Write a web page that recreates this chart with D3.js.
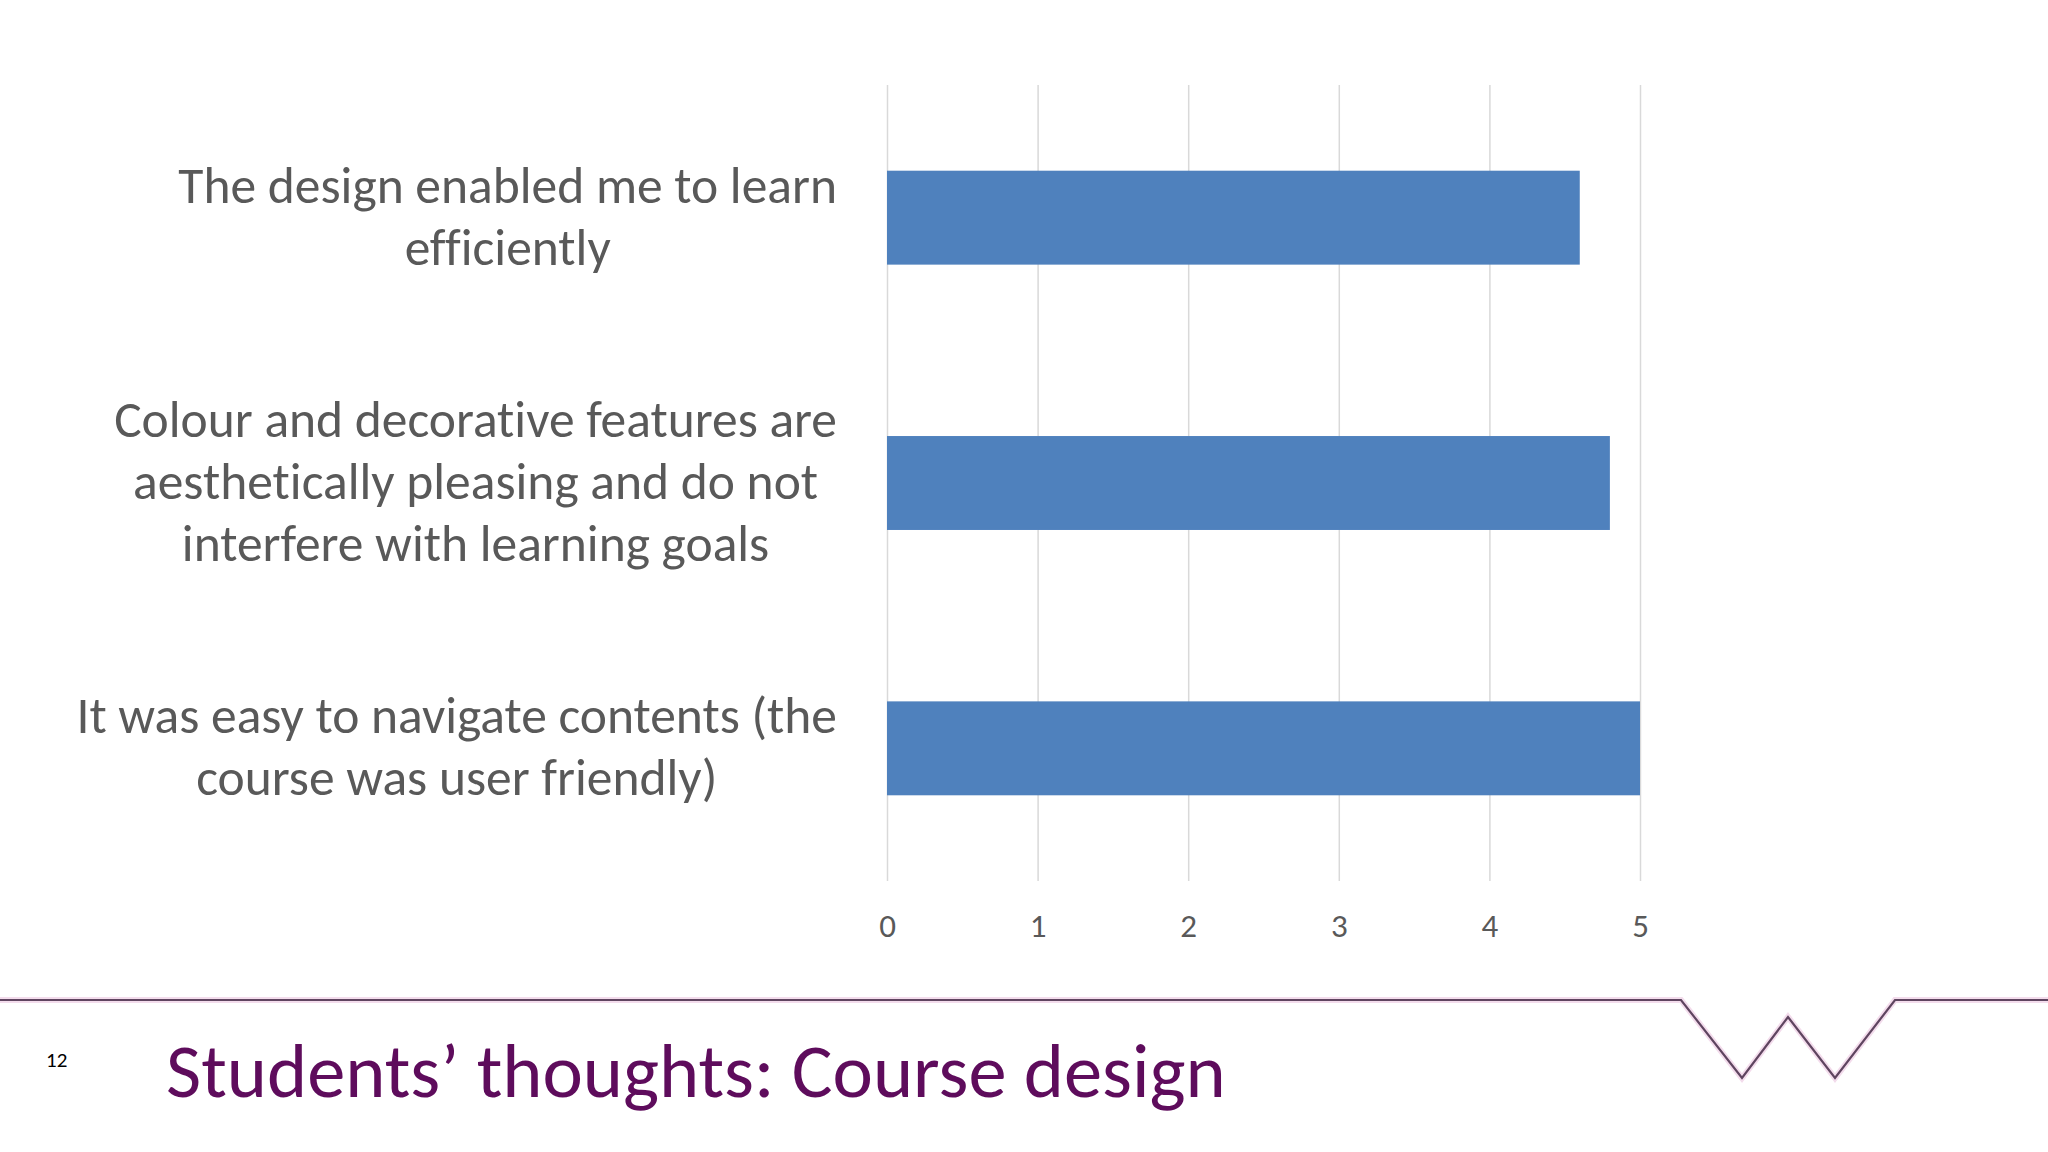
<!DOCTYPE html>
<html>
<head>
<meta charset="utf-8">
<script src="https://cdn.jsdelivr.net/npm/d3@7"></script>
<style>
  html, body { margin: 0; padding: 0; background: #ffffff; }
  #chart { width: 2048px; height: 1152px; }
  svg text { font-variant-ligatures: none; }
</style>
</head>
<body>
<div id="chart"></div>
<script>
// chart data
const categoryLines = [
  ["The design enabled me to learn", "efficiently"],
  ["Colour and decorative features are", "aesthetically pleasing and do not", "interfere with learning goals"],
  ["It was easy to navigate contents (the", "course was user friendly)"]
];
const categories = categoryLines.map((l) => l.join(" "));
const values = [4.6, 4.8, 5.0];
const xTicks = [0, 1, 2, 3, 4, 5];
const slideTitle = "Students’ thoughts: Course design";
const slideNumber = "12";

//==================================================================
const W = 2048, H = 1152;
const font = "Carlito, Calibri, Lato, sans-serif";
const grey = "#595959";

const svg = d3.select("#chart").append("svg")
  .attr("width", W)
  .attr("height", H)
  .style("font-family", font);

svg.append("rect").attr("width", W).attr("height", H).attr("fill", "#ffffff");

// scales
const x = d3.scaleLinear().domain([0, 5]).range([887, 1640]);
const y = d3.scaleBand().domain(categories).range([85, 881])
  .paddingInner(0.646).paddingOuter(0.323);

//========================= GRID + X AXIS ===========================
const xAxis = svg.append("g")
  .attr("transform", "translate(0,881)")
  .call(d3.axisBottom(x).tickValues(xTicks).tickFormat(d3.format("d"))
    .tickSizeInner(-(881 - 85)).tickSizeOuter(0).tickPadding(33));
xAxis.select(".domain").remove();
xAxis.selectAll(".tick line").attr("stroke", "#d9d9d9").attr("stroke-width", 1.5);
xAxis.selectAll(".tick text")
  .attr("fill", grey)
  .style("font-family", font)
  .style("font-size", "33px");

//============================= BARS ================================
svg.selectAll(".bar")
  .data(values)
  .enter()
  .append("rect")
  .attr("class", "bar")
  .attr("x", x(0))
  .attr("y", (d, i) => y(categories[i]))
  .attr("width", (d) => x(d) - x(0))
  .attr("height", y.bandwidth())
  .attr("fill", "#4f81bd");

//====================== CATEGORY LABELS ============================
// right edge of the widest line sits at 837, lines centred in the block
const labelRight = 837, lineGap = 62, capHalf = 16;
categoryLines.forEach((lines, i) => {
  const g = svg.append("g");
  const cy = y(categories[i]) + y.bandwidth() / 2;
  const texts = lines.map((line, j) => g.append("text")
    .attr("y", cy + (j - (lines.length - 1) / 2) * lineGap + capHalf)
    .attr("text-anchor", "middle")
    .attr("fill", grey)
    .style("font-size", "51.5px")
    .text(line));
  const maxW = d3.max(texts, (t) => t.node().getComputedTextLength());
  texts.forEach((t) => t.attr("x", labelRight - maxW / 2));
});

//======================== SLIDE FOOTER =============================
const rule = [[0, 1000], [1681, 1000], [1742, 1078], [1788, 1017], [1835, 1078], [1895, 1000], [2048, 1000]];
svg.append("path")
  .attr("d", d3.line()(rule))
  .attr("fill", "none")
  .attr("stroke", "#f3dcec")
  .attr("stroke-width", 6);
svg.append("path")
  .attr("d", d3.line()(rule))
  .attr("fill", "none")
  .attr("stroke", "#5f4560")
  .attr("stroke-width", 2.2);

svg.append("text")
  .attr("x", 46).attr("y", 1067)
  .attr("fill", "#000")
  .style("font-size", "21px")
  .text(slideNumber);

svg.append("text")
  .attr("x", 166).attr("y", 1097)
  .attr("fill", "#5e0c5c")
  .style("font-size", "76.5px")
  .text(slideTitle);
</script>
</body>
</html>
